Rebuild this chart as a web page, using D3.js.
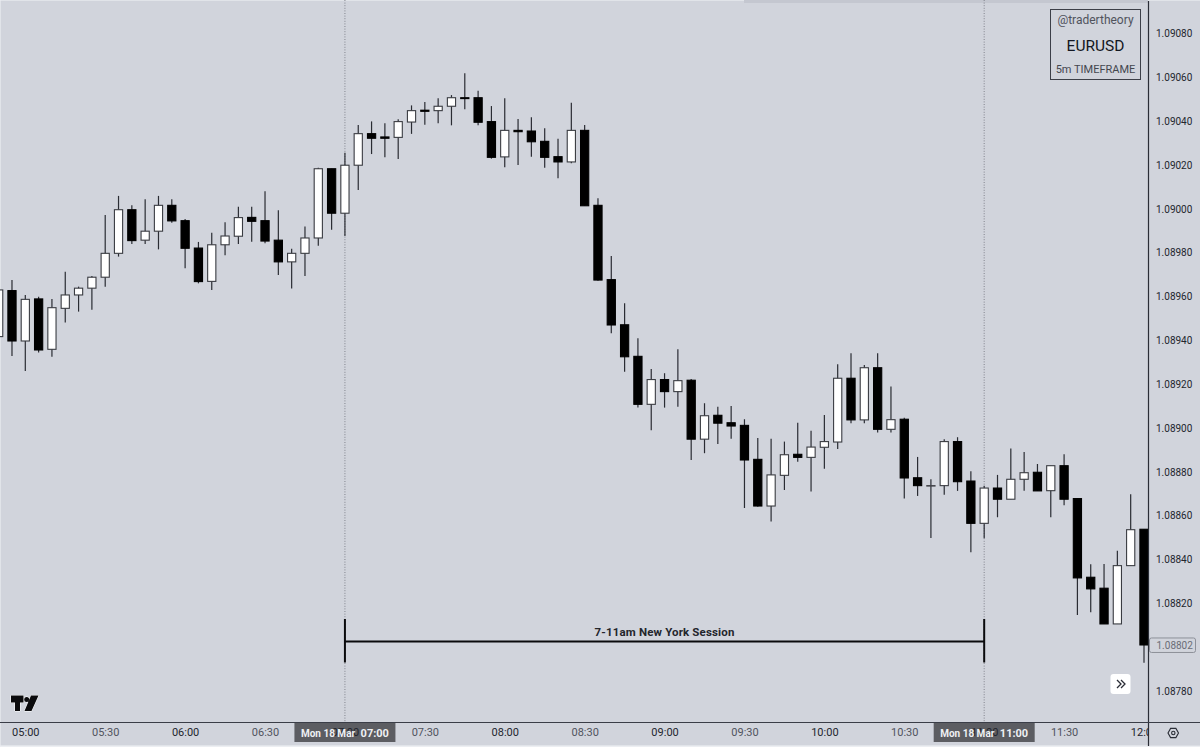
<!DOCTYPE html>
<html><head><meta charset="utf-8">
<script src="https://cdn.jsdelivr.net/npm/d3@7/dist/d3.min.js"></script>
<style>
html,body{margin:0;padding:0;background:#eceef2;overflow:hidden}
svg{display:block;font-family:Roboto,"Noto Sans",sans-serif}
</style></head><body><div id="chart"></div>
<script>
// Minutes after midnight of the first candle; one candle every 5 minutes
const startMinute = 290;
const stepMinutes = 5;
const opens = [1.089417,1.089627,1.089397,1.089589,1.089359,1.089546,1.089607,1.089638,1.089688,1.089797,1.089996,1.089857,1.089898,1.090016,1.089946,1.089821,1.089669,1.089836,1.089875,1.089961,1.089946,1.089857,1.089758,1.089797,1.089867,1.090183,1.089980,1.090199,1.090343,1.090328,1.090326,1.090396,1.090450,1.090448,1.090468,1.090507,1.090507,1.090398,1.090237,1.090358,1.090355,1.090308,1.090238,1.090214,1.090358,1.090016,1.089677,1.089471,1.089327,1.089108,1.089221,1.089166,1.089218,1.088949,1.089058,1.089024,1.089012,1.088857,1.088644,1.088784,1.088880,1.088866,1.088912,1.088936,1.089227,1.089037,1.089275,1.088994,1.089040,1.088773,1.088737,1.088737,1.088938,1.088758,1.088565,1.088726,1.088675,1.088766,1.088798,1.088714,1.088828,1.088678,1.088319,1.088269,1.088106,1.088372,1.088538];
const highs = [1.089653,1.089675,1.089607,1.089599,1.089589,1.089713,1.089645,1.089694,1.089972,1.090059,1.090016,1.090044,1.090059,1.090044,1.089954,1.089849,1.089891,1.089939,1.090010,1.090010,1.090080,1.089993,1.089818,1.089919,1.090188,1.090183,1.090256,1.090383,1.090399,1.090390,1.090409,1.090472,1.090488,1.090504,1.090519,1.090619,1.090539,1.090469,1.090504,1.090410,1.090418,1.090368,1.090320,1.090484,1.090383,1.090048,1.089785,1.089569,1.089409,1.089269,1.089250,1.089359,1.089224,1.089113,1.089097,1.089100,1.089040,1.088954,1.088951,1.088938,1.089024,1.088988,1.089059,1.089291,1.089341,1.089288,1.089341,1.089189,1.089047,1.088868,1.088766,1.088949,1.088958,1.088803,1.088737,1.088786,1.088907,1.088891,1.088836,1.088828,1.088880,1.088678,1.088378,1.088380,1.088440,1.088698,1.088538];
const lows = [1.089393,1.089329,1.089260,1.089344,1.089325,1.089481,1.089531,1.089539,1.089645,1.089782,1.089840,1.089840,1.089815,1.089937,1.089729,1.089660,1.089630,1.089788,1.089840,1.089850,1.089843,1.089698,1.089636,1.089694,1.089831,1.089904,1.089876,1.090086,1.090250,1.090235,1.090227,1.090342,1.090384,1.090390,1.090381,1.090454,1.090381,1.090229,1.090190,1.090200,1.090238,1.090188,1.090139,1.090208,1.090014,1.089672,1.089432,1.089257,1.089093,1.088990,1.089093,1.089097,1.088854,1.088885,1.088927,1.088951,1.088635,1.088641,1.088573,1.088717,1.088846,1.088710,1.088814,1.088904,1.089022,1.089022,1.088980,1.088979,1.088678,1.088690,1.088498,1.088696,1.088713,1.088433,1.088497,1.088593,1.088675,1.088714,1.088713,1.088593,1.088647,1.088147,1.088159,1.088106,1.088106,1.088372,1.087929];
const closes = [1.089630,1.089397,1.089587,1.089356,1.089549,1.089607,1.089638,1.089688,1.089797,1.089996,1.089855,1.089898,1.090016,1.089945,1.089820,1.089668,1.089836,1.089876,1.089960,1.089943,1.089853,1.089758,1.089797,1.089867,1.090183,1.089980,1.090199,1.090343,1.090322,1.090322,1.090398,1.090448,1.090445,1.090468,1.090507,1.090503,1.090395,1.090235,1.090358,1.090352,1.090306,1.090235,1.090214,1.090358,1.090014,1.089675,1.089470,1.089325,1.089108,1.089221,1.089166,1.089216,1.088949,1.089056,1.089022,1.089009,1.088854,1.088644,1.088786,1.088878,1.088866,1.088913,1.088938,1.089227,1.089037,1.089275,1.088994,1.089038,1.088772,1.088737,1.088737,1.088938,1.088755,1.088565,1.088726,1.088675,1.088766,1.088796,1.088713,1.088828,1.088675,1.088316,1.088266,1.088106,1.088372,1.088536,1.088010];
const priceTicks = [1.0908,1.0906,1.0904,1.0902,1.09,1.0898,1.0896,1.0894,1.0892,1.089,1.0888,1.0886,1.0884,1.0882,1.0878];
const timeTicks = [300,330,360,390,420,450,480,510,540,570,600,630,660,690,720];
const sessionStart = 420, sessionEnd = 660;
const sessionDay = "Mon 18 Mar";
const sessionLabel = "7-11am New York Session";
const lastPrice = 1.08802;
const note = ["@tradertheory","EURUSD","5m TIMEFRAME"];

const W=1200,H=747,paneR=1148.5,paneB=722.5;
const FONT='Roboto,"Noto Sans",sans-serif';
const x=d3.scaleLinear().domain([300,720]).range([25.3,1144]);
const y=d3.scaleLinear().domain([1.0908,1.0878]).range([33.5,691]);
const svg=d3.select("#chart").append("svg").attr("width",W).attr("height",H);
const BG="#d1d4dc",INK="#131722";
svg.append("rect").attr("x",0.6).attr("y",0.6).attr("width",W).attr("height",H-2.2).attr("fill",BG);
svg.append("rect").attr("x",744).attr("y",0).attr("width",404).attr("height",3).attr("fill","#c4c7d0");
svg.append("defs").append("clipPath").attr("id","pane").append("rect").attr("x",0).attr("y",0).attr("width",paneR).attr("height",paneB);

const hm=m=>String(Math.floor(m/60)).padStart(2,"0")+":"+String(m%60).padStart(2,"0");

// Session boundaries
svg.selectAll(".vl").data([sessionStart,sessionEnd]).join("line").attr("class","vl")
 .attr("x1",d=>x(d)).attr("x2",d=>x(d)).attr("y1",0).attr("y2",paneB)
 .attr("stroke","#80838c").attr("stroke-width",1).attr("stroke-dasharray","1 1.6");

// Candles
const times=opens.map((_,i)=>startMinute+i*stepMinutes);
const g=svg.append("g").attr("clip-path","url(#pane)");
const bw=8.2;
const c=g.selectAll(".c").data(times).join("g").attr("class","c");
c.append("line").attr("x1",d=>x(d)).attr("x2",d=>x(d))
 .attr("y1",(d,i)=>y(highs[i])).attr("y2",(d,i)=>y(lows[i]))
 .attr("stroke","#2a2c33").attr("stroke-width",1.2);
c.append("rect").attr("x",d=>x(d)-bw/2).attr("width",bw)
 .attr("y",(d,i)=>y(Math.max(opens[i],closes[i])))
 .attr("height",(d,i)=>Math.max(0.4,Math.abs(y(opens[i])-y(closes[i]))))
 .attr("fill",(d,i)=>closes[i]>=opens[i]?"#ffffff":"#000000")
 .attr("stroke",(d,i)=>closes[i]>=opens[i]?"#3a3c42":"#000000").attr("stroke-width",1.1);

// Session bracket
const by=641.5;
const br=svg.append("g").attr("stroke","#0a0a0c").attr("stroke-width",2);
br.append("line").attr("x1",x(sessionStart)).attr("x2",x(sessionEnd)).attr("y1",by).attr("y2",by);
[sessionStart,sessionEnd].forEach(t=>br.append("line").attr("x1",x(t)).attr("x2",x(t)).attr("y1",by-22.5).attr("y2",by+21));
svg.append("text").attr("x",(x(sessionStart)+x(sessionEnd))/2).attr("y",636).attr("text-anchor","middle")
 .attr("font-size",11.5).attr("font-weight",700).attr("letter-spacing",0.15).attr("fill","#24262c").text(sessionLabel);

// Watermark box
const nb=svg.append("g");
nb.append("rect").attr("x",1050.5).attr("y",9.5).attr("width",90).attr("height",70).attr("fill",BG).attr("stroke","#3c3f48").attr("stroke-width",1);
nb.append("text").attr("x",1095.5).attr("y",23.5).attr("text-anchor","middle").attr("font-size",12).attr("fill","#50535c").text(note[0]);
nb.append("text").attr("x",1095.5).attr("y",50.5).attr("text-anchor","middle").attr("font-size",15.5).attr("fill",INK).text(note[1]);
nb.append("text").attr("x",1095.5).attr("y",72.5).attr("text-anchor","middle").attr("font-size",11).attr("fill","#44474f").text(note[2]);

// Day/time flags sit behind the axis labels, whose text shows through
[sessionStart,sessionEnd].forEach(t=>{
 svg.append("rect").attr("x",x(t)-50.5).attr("y",paneB).attr("width",101).attr("height",19.5).attr("fill","#5c5d62");
});

// Time axis
const xa=d3.axisBottom(x).tickValues(timeTicks).tickSize(0).tickPadding(3).tickFormat(hm);
const gx=svg.append("g").attr("transform",`translate(0,${paneB})`).call(xa);
gx.select(".domain").remove();
gx.selectAll("text").attr("font-family",FONT).attr("font-size",11)
 .attr("dy","0.95em").attr("fill",d=>d%60===0?"#23262e":"#50535c");

[sessionStart,sessionEnd].forEach(t=>{
 svg.append("text").attr("x",x(t)-44).attr("y",paneB+14.5).attr("font-size",10).attr("font-weight",700).attr("fill","#eef0f3").text(sessionDay);
 svg.append("text").attr("x",x(t)+44).attr("y",paneB+14.5).attr("text-anchor","end").attr("font-size",11).attr("font-weight",700).attr("fill","#eef0f3").text(hm(t));
});

// Clear right of pane then price axis
svg.append("rect").attr("x",paneR).attr("y",paneB).attr("width",W-paneR).attr("height",H-paneB-1.6).attr("fill",BG);
const ya=d3.axisRight(y).tickValues(priceTicks).tickSize(0).tickPadding(0).tickFormat(d3.format(".5f"));
const gy=svg.append("g").attr("transform",`translate(1156,0)`).call(ya);
gy.select(".domain").remove();
gy.selectAll("text").attr("font-family",FONT).attr("font-size",10).attr("fill","#23262e");

// Last price flag, at the last candle's close
const ly=y(closes[closes.length-1]);
svg.append("rect").attr("x",1149.5).attr("y",ly-7).attr("width",46).attr("height",14.5).attr("rx",2).attr("fill",BG).attr("stroke","#8d9099");
svg.append("text").attr("x",1156.5).attr("y",ly+4).attr("font-size",10).attr("fill","#6a6d76").text(d3.format(".5f")(lastPrice));

// Pane borders
svg.append("line").attr("x1",paneR).attr("x2",paneR).attr("y1",1).attr("y2",746).attr("stroke","#2a2d36").attr("stroke-width",1.2);
svg.append("line").attr("x1",0).attr("x2",W).attr("y1",paneB).attr("y2",paneB).attr("stroke","#3a3d47").attr("stroke-width",1.2);

// TradingView mark
svg.append("path").attr("d","M11 695.5H23.5V702.5H20V711H15V702.5H11Z M24.5 711L31 695.5H38.5L31.5 711Z M24.2 699.4a2.5 2.5 0 1 0 5 0a2.5 2.5 0 1 0 -5 0Z")
 .attr("fill","#0b0b0d").attr("stroke","#ffffff").attr("stroke-width",1).attr("paint-order","stroke");

// Scroll button
svg.append("rect").attr("x",1110.5).attr("y",674).attr("width",20).attr("height",20).attr("rx",3).attr("fill","#ffffff");
svg.append("path").attr("d","M1117 680l4 4l-4 4M1121 680l4 4l-4 4").attr("fill","none").attr("stroke","#2a2d36").attr("stroke-width",1.3);

// Settings icon
svg.append("path").attr("d","M1168 733l2.6-4.6h5.3l2.6 4.6l-2.6 4.6h-5.3Z").attr("fill","none").attr("stroke","#2a2d36").attr("stroke-width",1.1);
svg.append("circle").attr("cx",1173.3).attr("cy",733).attr("r",1.7).attr("fill","none").attr("stroke","#2a2d36").attr("stroke-width",1.1);
</script></body></html>
